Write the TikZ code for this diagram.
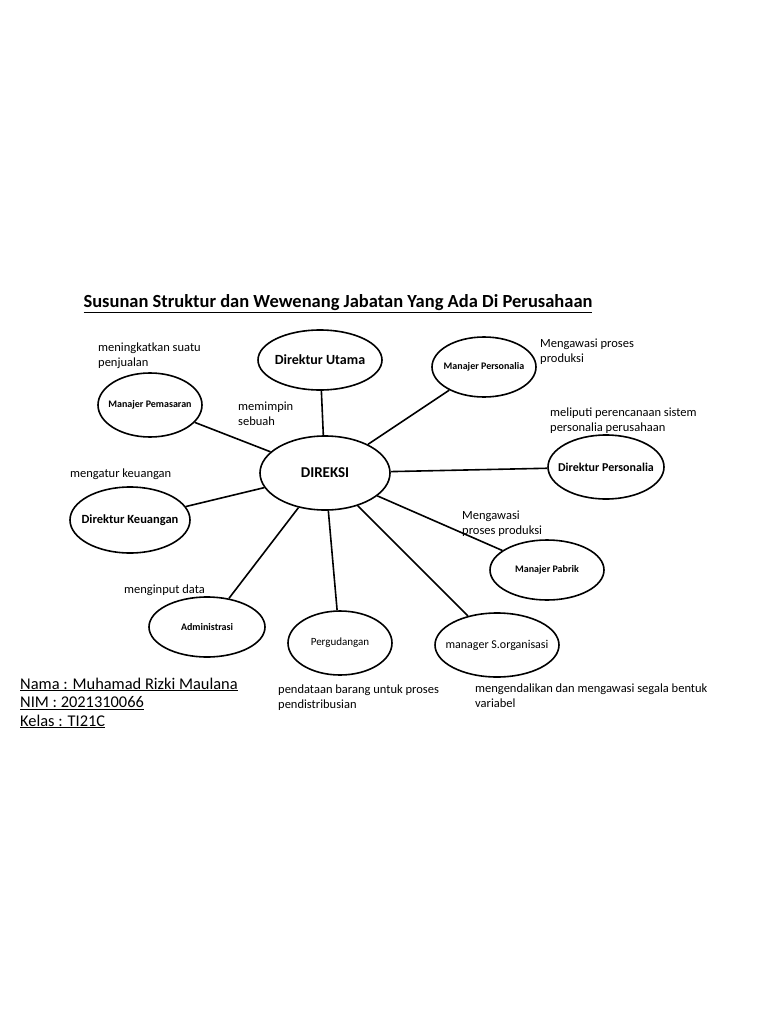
\documentclass[tikz,border=0pt]{standalone}
\usepackage{fontspec}
\setmainfont{Carlito}
\usetikzlibrary{shapes.geometric}
\begin{document}
\begin{tikzpicture}[x=1pt,y=-1pt,
  el/.style={ellipse,draw,line width=1.6pt,inner sep=0pt},
  lab/.style={anchor=west,align=left,font=\fontsize{12.5}{15}\selectfont,inner sep=0pt},
  link/.style={line width=1.6pt}]
\useasboundingbox (0,0) rectangle (768,1024);
\node[font=\bfseries\fontsize{18.5}{21}\selectfont,inner sep=0pt] (title) at (338,304) {\underline{Susunan Struktur dan Wewenang Jabatan Yang Ada Di Perusahaan}};
\node[el,minimum width=130,minimum height=74,label={[font=\bfseries\fontsize{15}{17}\selectfont]center:DIREKSI}] (dir) at (325,473) {};
\node[el,minimum width=124,minimum height=60,label={[font=\bfseries\fontsize{14}{16}\selectfont]center:Direktur Utama}] (du) at (320,360) {};
\node[el,minimum width=104,minimum height=60,label={[font=\bfseries\fontsize{10}{12}\selectfont]center:Manajer Personalia}] (mp) at (484,367) {};
\node[el,minimum width=104,minimum height=64,label={[font=\bfseries\fontsize{10}{12}\selectfont]center:Manajer Pemasaran}] (mpm) at (150,405) {};
\node[el,minimum width=116,minimum height=64,label={[font=\bfseries\fontsize{12}{14}\selectfont]center:Direktur Personalia}] (dp) at (606,467) {};
\node[el,minimum width=120,minimum height=66,label={[font=\bfseries\fontsize{12.5}{14}\selectfont]center:Direktur Keuangan}] (dk) at (130,520) {};
\node[el,minimum width=114,minimum height=60,label={[font=\bfseries\fontsize{10}{12}\selectfont]center:Manajer Pabrik}] (mpb) at (547,570) {};
\node[el,minimum width=116,minimum height=60,label={[font=\bfseries\fontsize{10}{12}\selectfont]center:Administrasi}] (adm) at (207,627) {};
\node[el,minimum width=104,minimum height=64,label={[font=\fontsize{11}{13}\selectfont]center:Pergudangan}] (pg) at (340,643) {};
\node[el,minimum width=124,minimum height=64,label={[font=\fontsize{12}{14}\selectfont]center:manager S.organisasi}] (mso) at (497,645) {};
\foreach \n in {du,mp,mpm,dp,dk,mpb,adm,pg,mso} \draw[link] (dir) -- (\n);
\node[lab] (t1) at (98,356) {meningkatkan suatu\\penjualan};
\node[lab] (t2) at (238,414) {memimpin\\sebuah};
\node[lab] (t3) at (540,352) {Mengawasi proses\\produksi};
\node[lab] (t4) at (550,421) {meliputi perencanaan sistem\\personalia perusahaan};
\node[lab] (t5) at (70,474) {mengatur keuangan};
\node[lab] (t6) at (462,524) {Mengawasi\\proses produksi};
\node[lab] (t7) at (124,590) {menginput data};
\node[lab] (t8) at (278,698) {pendataan barang untuk proses\\pendistribusian};
\node[lab] (t9) at (475,696) {mengendalikan dan mengawasi segala bentuk\\variabel};
\node[anchor=west,align=left,inner sep=0pt,font=\fontsize{16.4}{18.5}\selectfont] (id) at (20,703) {\underline{Nama : Muhamad Rizki Maulana}\\\underline{NIM : 2021310066}\\\underline{Kelas : TI21C}};
\end{tikzpicture}
\end{document}
